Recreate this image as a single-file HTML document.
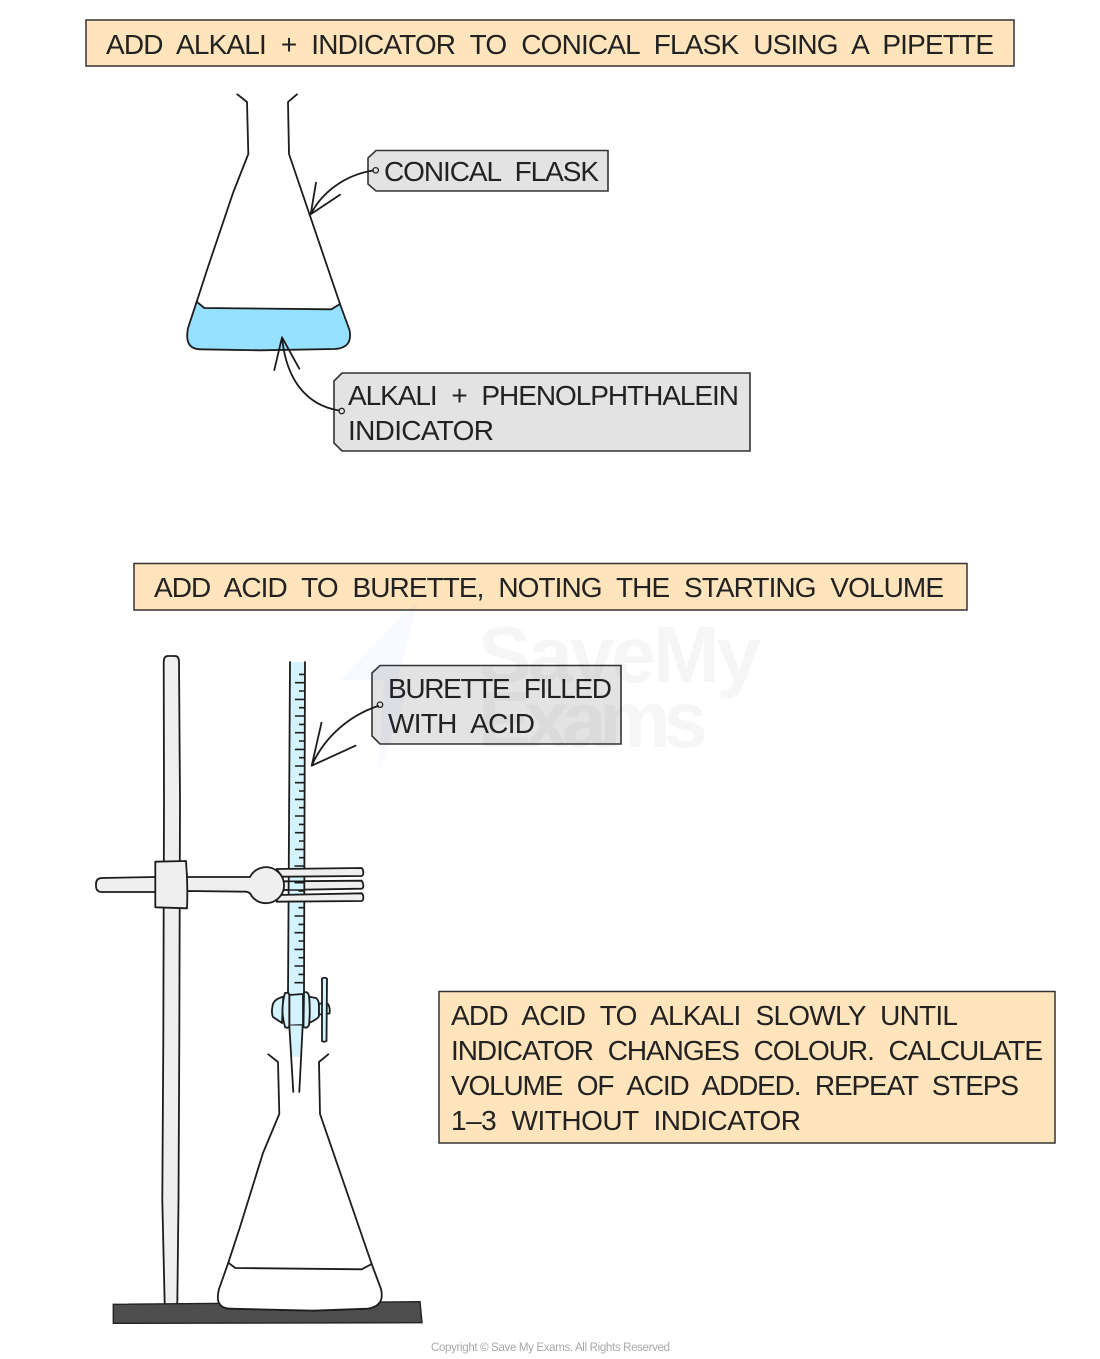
<!DOCTYPE html>
<html><head><meta charset="utf-8"><style>
html,body{margin:0;padding:0;background:#fff}
svg{display:block}
.t{font-family:"Liberation Sans",sans-serif;font-size:28px;fill:#222;word-spacing:8px}
.l{stroke:#1c1c1c;stroke-width:1.8;fill:none;stroke-linejoin:round;stroke-linecap:round}
.g{stroke:#1c1c1c;stroke-width:1.8;fill:#efefef;stroke-linejoin:round}
.b{stroke:#1c1c1c;stroke-width:1.8;fill:#d3f3fe;stroke-linejoin:round}
.o{fill:#ffe4bc;stroke:#333;stroke-width:1.5}
.y{fill:#e3e3e3;stroke:#333;stroke-width:1.6}
</style></head><body>
<svg width="1100" height="1359" viewBox="0 0 1100 1359" xmlns="http://www.w3.org/2000/svg">
<rect width="1100" height="1359" fill="#fff"/>

<!-- top banner -->
<rect class="o" x="86" y="20" width="928" height="46"/>
<text class="t" x="106" y="54" textLength="888">ADD ALKALI + INDICATOR TO CONICAL FLASK USING A PIPETTE</text>

<!-- flask 1 -->
<path d="M196.700 301.700L188 328Q184 349 200 349.300L260 350.300L335 349Q353 348 349.500 330L340 304L331.300 309.300L204.300 308Z" fill="#95e1ff"/>
<path class="l" d="M237.300 94.300L247 102L248.300 154L233 193L208 267L196.700 301.700L188 328Q184 349 200 349.300L260 350.300L335 349Q353 348 349.500 330L340 304L289 154L288 102L297 94.300"/>
<path class="l" d="M196.700 301.700L204.300 308L331.300 309.300L340 304"/>

<!-- conical flask label -->
<path class="y" d="M376 150.500H608V191H376L368 184V158Z"/>
<text class="t" x="384" y="181" textLength="215">CONICAL FLASK</text>
<circle cx="375.700" cy="170.300" r="2.700" fill="none" stroke="#222" stroke-width="1.300"/>
<path class="l" d="M373 170.500C345 175 322 192 310.700 214.300M316 182.700L310.700 214.300L340 194.700"/>

<!-- alkali label -->
<path class="y" d="M342 373H750V451H342L334 443V381Z"/>
<text class="t" x="348" y="405" textLength="391">ALKALI + PHENOLPHTHALEIN</text>
<text class="t" x="348" y="440" textLength="146">INDICATOR</text>
<circle cx="341.700" cy="411" r="2.700" fill="none" stroke="#222" stroke-width="1.300"/>
<path class="l" d="M339 410.500C305 405 286 378 282 337.300M274.300 370L282 337.300L299.300 368.700"/>

<!-- second banner -->
<rect class="o" x="134" y="563.500" width="833" height="46.500"/>
<text class="t" x="154" y="597" textLength="790">ADD ACID TO BURETTE, NOTING THE STARTING VOLUME</text>

<!-- burette label -->
<path class="y" d="M380 665.500H621V744H380L372 736V673Z"/>
<text class="t" x="388" y="698" textLength="224">BURETTE FILLED</text>
<text class="t" x="388" y="733" textLength="147">WITH ACID</text>
<circle cx="380" cy="704.700" r="2.700" fill="none" stroke="#222" stroke-width="1.300"/>
<path class="l" d="M378 706C348 716 324 738 311.700 765.700M321.500 722.700L311.700 765.700L355.500 745.700"/>

<!-- stand rod -->
<path class="g" d="M163.700 662Q163.700 656 168 656H175Q179 656 179 662L180 800L179.300 1040L178.500 1200L177.300 1304.500H164.700L162.300 1200L163.300 1040L164 800Z"/>

<!-- middle prong behind burette -->
<path class="g" d="M283 881.300L361.700 880.700Q363.500 884 363.300 886Q363.500 888 361.700 888.700L283 890Z"/>

<!-- burette -->
<path d="M290 662H305L304 994H288Z" fill="#d3f3fe"/>
<path class="l" d="M290 662L288 994M305 662L304 994"/>
<path d="M305 674.400h-6M305 682.700h-10M305 691h-6M305 699.400h-10M305 707.700h-6M305 716h-10M305 724.400h-6M305 732.700h-10M305 741h-6M305 749.400h-10M305 757.700h-6M305 766h-10M305 774.400h-6M305 782.700h-10M305 791h-6M305 799.400h-10M305 807.700h-6M305 816h-10M305 824.400h-6M305 832.700h-10M305 841h-6M305 849.400h-10M305 857.700h-6M304.500 866h-10M304.500 874.400h-6M304.500 882.700h-10M304.500 891h-6M304.500 899.400h-10M304.500 907.700h-6M304.500 916h-10M304.500 924.400h-6M304.500 932.700h-10M304.500 941h-6M304.500 949.400h-10M304.500 957.700h-6M304.500 966h-10M304.500 974.400h-6M304.500 982.700h-10" stroke="#1c1c1c" stroke-width="1.600" fill="none"/>
<path d="M283 881.300H305M283 890H305" stroke="#1c1c1c" stroke-width="1.600"/>

<!-- prongs top and bottom -->
<path class="g" d="M276.700 869L361.700 868Q363.500 870 363.300 872.500Q363.500 875 361.700 876L281.700 876.700Z"/>
<path class="g" d="M278 895L361.700 893.300Q363.500 895 363.300 897.500Q363.500 900 361.700 901L276.700 901.700Z"/>

<!-- arm and ball -->
<path class="g" d="M187 877L250 877A18 18 0 1 1 252 896.500Q250 892 246 891.700L187 891L155 892H102Q96 892 96 886V884Q96 878 102 878L155 877Z"/>
<!-- clamp box -->
<path class="g" d="M155.300 861.700L186 861Q188 885 187 908.300L155.300 907.300Z"/>

<!-- stopcock -->
<path class="b" d="M283.300 996.700Q274 999 272.700 1005Q271 1013 273 1017L282 1023Z"/>
<path class="b" d="M309.300 996.700L316 998Q319 1000 319 1006L319 1016Q318 1019 309 1023Z"/>
<path class="b" d="M319 1003.500L328 1004Q330.500 1008 329.500 1013.500L319 1014.500Z"/>
<path class="b" d="M322 978.500Q324.500 977 327 978.500L326.500 1041Q324 1042.500 322 1041Z"/>
<path class="b" d="M289.300 995L303 994L303 1025L289.300 1025.500Z"/>
<path class="b" d="M285 993Q289 992 289.300 995L289.300 1026Q288 1029 285 1027Q280 1010 285 993Z"/>
<path class="b" d="M304 992.500Q308 991 309 996Q310.500 1010 309 1025Q307 1029 303.500 1027Z"/>

<!-- tip -->
<path d="M289.300 1025.500H302.700L300.300 1056.700H291.500Z" fill="#d3f3fe"/>
<path class="l" d="M289.300 1025.500L293.300 1092M302.700 1025.500L299.300 1092"/>

<!-- base -->
<path d="M113.300 1304.300L420 1301.700L422 1322.700L113.300 1323.300Z" fill="#4d4d4d" stroke="#222" stroke-width="1.400"/>

<!-- flask 2 -->
<path d="M228.300 1262.700L219 1289Q214 1308 230 1308.700L313 1310.700L368 1308.700Q385 1306 381 1289L371.700 1264Z" fill="#fff"/>
<path class="l" d="M268.300 1054.300L278 1062L279.300 1114L263 1153L240 1227L228.300 1262.700L219 1289Q214 1308 230 1308.700L313 1310.700L368 1308.700Q385 1306 381 1289L371.700 1264L320 1114L319 1062L328.300 1054.300"/>
<path class="l" d="M228.300 1262.700L235.300 1268L361.700 1269.300L371.700 1264"/>

<!-- third box -->
<rect class="o" x="439" y="991.500" width="616" height="151.500"/>
<text class="t" x="451" y="1025" textLength="507">ADD ACID TO ALKALI SLOWLY UNTIL</text>
<text class="t" x="451" y="1060" textLength="592">INDICATOR CHANGES COLOUR. CALCULATE</text>
<text class="t" x="451" y="1095" textLength="568">VOLUME OF ACID ADDED. REPEAT STEPS</text>
<text class="t" x="451" y="1130" textLength="350">1–3 WITHOUT INDICATOR</text>

<!-- watermark -->
<path d="M418 600L340 680H384L378 775L408 690H395Z" fill="#2f5fff" opacity=".03"/>
<text x="478" y="682" font-family="'Liberation Sans',sans-serif" font-weight="bold" font-size="80" textLength="283" fill="#000" opacity=".03">SaveMy</text>
<text x="478" y="747" font-family="'Liberation Sans',sans-serif" font-weight="bold" font-size="80" textLength="230" fill="#000" opacity=".03">Exams</text>

<text x="431" y="1351" font-family="'Liberation Sans',sans-serif" font-size="11.500" fill="#a8a8a8" textLength="239">Copyright © Save My Exams. All Rights Reserved</text>
</svg>
</body></html>
